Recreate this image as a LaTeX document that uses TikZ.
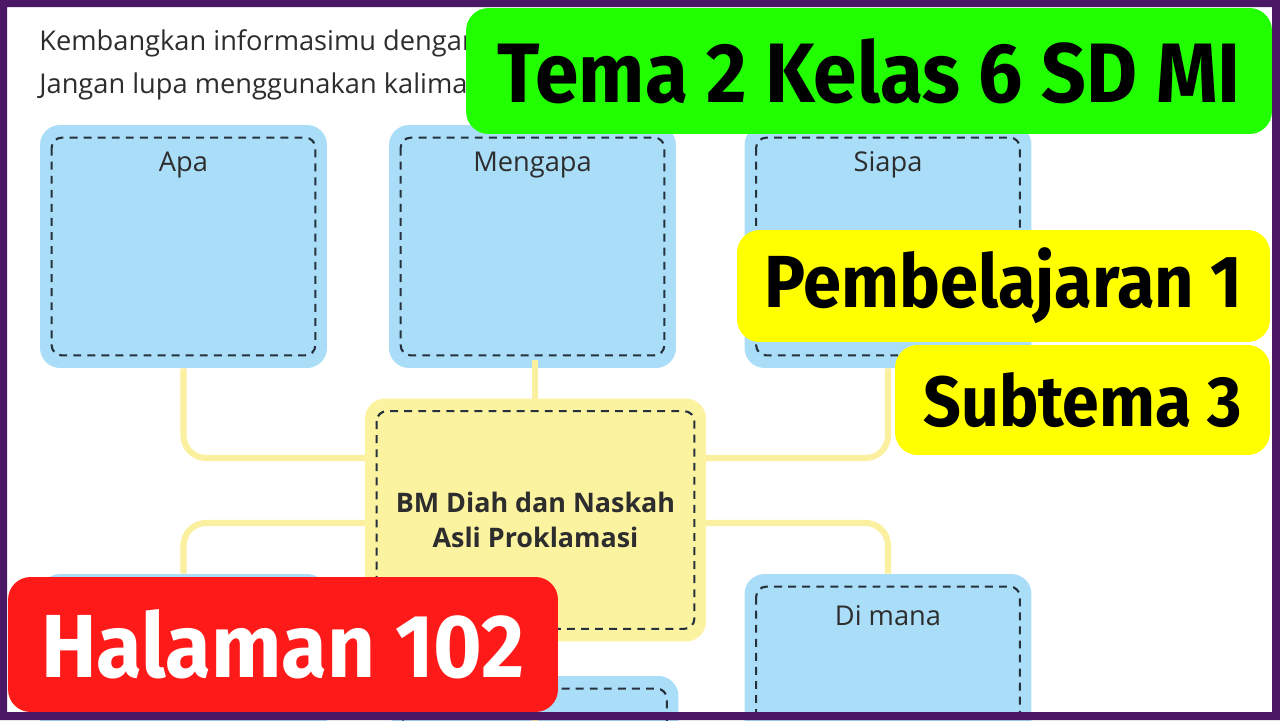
\documentclass[tikz,border=0pt]{standalone}
\usepackage{fontspec}
\setmainfont{Open Sans}
\newfontfamily\tagfont[FakeStretch=0.93]{Fira Sans}
\usetikzlibrary{positioning}
\definecolor{framepurple}{RGB}{74,24,100}
\definecolor{boxblue}{RGB}{170,221,248}
\definecolor{topicyellow}{RGB}{252,243,161}
\definecolor{linkyellow}{RGB}{251,240,160}
\definecolor{dashink}{RGB}{37,50,61}
\definecolor{inkgrey}{RGB}{45,45,45}
\definecolor{taggreen}{RGB}{34,255,0}
\definecolor{tagyellow}{RGB}{255,255,0}
\definecolor{tagred}{RGB}{255,26,26}
\begin{document}
\begin{tikzpicture}[x=0.02cm,y=-0.02cm,
    blue box/.style={fill=boxblue,rounded corners=0.4cm,minimum width=5.74cm,minimum height=4.86cm,inner sep=0pt},
    topic box/.style={fill=topicyellow,rounded corners=0.4cm,minimum width=6.82cm,minimum height=4.86cm,align=center,
        font=\fontsize{15.3}{20}\selectfont\bfseries,text=inkgrey},
    dash frame/.style={draw=dashink,line width=1.2pt,dash pattern=on 4.5pt off 3.5pt,rounded corners=0.2cm},
    link/.style={draw=linkyellow,line width=3.5pt,rounded corners=0.45cm},
    box title/.style={font=\fontsize{15.5}{18}\selectfont,text=inkgrey},
    intro/.style={font=\fontsize{15.5}{18}\selectfont,text=inkgrey,inner sep=0pt,anchor=west},
    tag/.style={rounded corners=0.45cm,inner sep=0pt,font=\tagfont\bfseries}]
    \useasboundingbox (0,0) rectangle (1280,720);
    \fill[white] (0,0) rectangle (1280,720);

    \node[intro] (line1) at (39,43) {Kembangkan informasimu dengan};
    \node[intro] (line2) at (39,86) {Jangan lupa menggunakan kalimat};

    % boxes
    \node[blue box] (apa) at (183.5,246.5) {};
    \node[blue box] (mengapa) at (532.5,246.5) {};
    \node[blue box] (siapa) at (888,246.5) {};
    \node[blue box] (kiri) at (183.5,695.5) {};
    \node[blue box] (bawah) at (535,797.5) {};
    \node[blue box] (dimana) at (888,695.5) {};

    % connectors behind the topic box
    \draw[link] (apa.south) |- ([yshift=1.21cm]535.5,518.5);
    \draw[link] (kiri.north) |- ([yshift=-0.09cm]535.5,518.5);
    \draw[link] (siapa.south) |- ([yshift=1.21cm]535.5,518.5);
    \draw[link] (dimana.north) |- ([yshift=-0.09cm]535.5,518.5);
    \draw[link] (535,360) -- (535,800);

    \node[topic box] (topic) at (535.5,520) {BM Diah dan Naskah\\Asli Proklamasi};

    \foreach \b in {apa,mengapa,siapa,kiri,bawah,dimana,topic}
        \draw[dash frame] ([shift={(0.24cm,-0.26cm)}]\b.north west) rectangle ([shift={(-0.24cm,0.26cm)}]\b.south east);

    \node[box title] at ([yshift=-0.8cm]apa.north) {Apa};
    \node[box title] at ([yshift=-0.8cm]mengapa.north) {Mengapa};
    \node[box title] at ([yshift=-0.8cm]siapa.north) {Siapa};
    \node[box title] at ([yshift=-0.84cm]dimana.north) {Di mana};

    % purple frame
    \fill[framepurple,even odd rule] (0,0) rectangle (1280,720) (7,7) rectangle (1272,712);

    % labels on top
    \node[tag,fill=taggreen,minimum width=16.12cm,minimum height=2.52cm,font=\tagfont\bfseries\fontsize{48}{52}\selectfont] (tema) at (869,71) {Tema 2 Kelas 6 SD MI};
    \node[tag,fill=tagyellow,minimum width=10.66cm,minimum height=2.24cm,font=\tagfont\bfseries\fontsize{42}{46}\selectfont] (pemb) at (1003.5,286) {Pembelajaran 1};
    \node[tag,fill=tagyellow,minimum width=7.5cm,minimum height=2.2cm,font=\tagfont\bfseries\fontsize{40.5}{44}\selectfont] (subtema) at (1082.5,400) {Subtema 3};
    \node[tag,fill=tagred,text=white,minimum width=11cm,minimum height=2.7cm,font=\tagfont\bfseries\fontsize{51}{55}\selectfont] (hal) at (283,644.5) {Halaman 102};
\end{tikzpicture}
\end{document}
